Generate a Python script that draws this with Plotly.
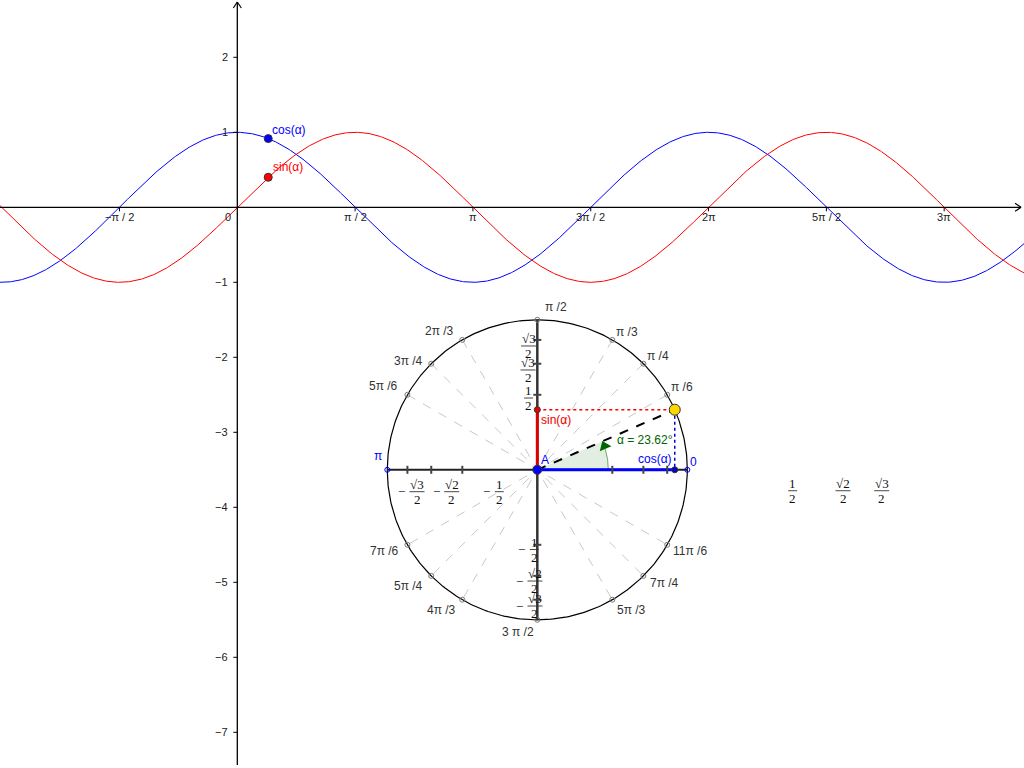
import numpy as np
import plotly.graph_objects as go

# angle shown in the drawing
alpha_deg = 23.62

# unit circle of the construction (radius 2, centre A)
circle_center = (4.0, -3.5)
circle_radius = 2.0

# main axes
x_tick_vals = [-np.pi / 2, 0, np.pi / 2, np.pi, 3 * np.pi / 2, 2 * np.pi, 5 * np.pi / 2, 3 * np.pi]
x_tick_text = ["−π / 2", "0", "π / 2", "π", "3π / 2", "2π", "5π / 2", "3π"]
y_tick_vals = [2, 1, -1, -2, -3, -4, -5, -6, -7]
y_tick_text = ["2", "1", "−1", "−2", "−3", "−4", "−5", "−6", "−7"]

# special angles on the circle
angle_deg = [30, 45, 60, 90, 120, 135, 150, 210, 225, 240, 270, 300, 315, 330]
angle_text = ["π /6", "π /4", "π /3", "π /2", "2π /3", "3π /4", "5π /6",
              "7π /6", "5π /4", "4π /3", "3 π /2", "5π /3", "7π /4", "11π /6"]
angle_shift = [(15, 8), (15, 8), (15, 8), (19, 13), (-23, 9), (-23, 3), (-24, 9),
               (-23, -6), (-23, -10), (-21, -10), (-19, -12), (19, -10), (21, -7), (23, -6)]
diam_deg = [30, 45, 60, 120, 135, 150]

# tick marks on the circle axes, as fractions of the radius
circle_ticks = [0.5, np.sqrt(2) / 2, np.sqrt(3) / 2]

# fraction labels (numerator over 2), position of the fraction bar
frac_num = ["√3", "√2", "1", "1", "√2", "√3", "√3", "√3", "1", "1", "√2", "√3"]
frac_neg = [True, True, True, True, True, True, False, False, False, False, False, False]
frac_x = [2.396, 2.859, 3.493, 3.960, 3.969, 3.969, 3.883, 3.876, 3.883, 7.405, 8.076, 8.592]
frac_y = [-3.792, -3.792, -3.792, -4.563, -4.983, -5.316, -1.849, -2.169, -2.543, -3.779, -3.779, -3.779]

x_range = [-3.164, 10.489]
y_range = [-7.476, 2.764]

SANS = "Liberation Sans"
SERIF = "Liberation Serif"

a = np.radians(alpha_deg)
cx, cy = circle_center
R = circle_radius
px_, py_ = cx + R * np.cos(a), cy + R * np.sin(a)   # moving point on the circle

fig = go.Figure()


def line(xs, ys, color, width=1, dash=None, **kw):
    fig.add_trace(go.Scatter(x=xs, y=ys, mode="lines",
                             line=dict(color=color, width=width, dash=dash),
                             hoverinfo="skip", **kw))


def dots(xs, ys, color, size, outline="#333", width=1, symbol="circle", angle=0):
    fig.add_trace(go.Scatter(x=xs, y=ys, mode="markers", hoverinfo="skip",
                             marker=dict(color=color, size=size, symbol=symbol, angle=angle,
                                         line=dict(color=outline, width=width))))


def label(x, y, text, color="#333", size=12, dx=0, dy=0, family=SANS, xanchor="center"):
    fig.add_annotation(x=x, y=y, text=text, showarrow=False, xshift=dx, yshift=dy,
                       xanchor=xanchor, yanchor="middle",
                       font=dict(color=color, size=size, family=family))


def pxline(xa, ya, x0, y0, x1, y1, color="black", width=1):
    # short segment sized in pixels around a data anchor
    fig.add_shape(type="line", xref="x", yref="y", xsizemode="pixel", ysizemode="pixel",
                  xanchor=xa, yanchor=ya, x0=x0, y0=y0, x1=x1, y1=y1,
                  line=dict(color=color, width=width))


# ---- graph of sin and cos
xs = np.linspace(x_range[0], x_range[1], 900)
line(xs, np.cos(xs), "#0000ff", 1)
line(xs, np.sin(xs), "#ff0000", 1)

# ---- main axes
line([x_range[0], 10.45], [0, 0], "black", 1.3)
line([0, 0], [-7.436, 2.737], "black", 1.3)
pxline(10.45, 0, -6, 4, 0, 0, width=1.2)
pxline(10.45, 0, -6, -4, 0, 0, width=1.2)
pxline(0, 2.737, -4, -6, 0, 0, width=1.2)
pxline(0, 2.737, 4, -6, 0, 0, width=1.2)
for v, t in zip(x_tick_vals, x_tick_text):
    if v != 0:
        pxline(v, 0, 0, -4, 0, 0)
    label(v, 0, t, color="#222", size=11, dx=-9 if v == 0 else 0, dy=-10)
for v, t in zip(y_tick_vals, y_tick_text):
    pxline(0, v, -4, 0, 0, 0)
    label(0, v, t, color="#222", size=11, dx=-7, xanchor="right")

# ---- unit circle construction
for d in diam_deg:
    r = np.radians(d)
    line([cx + R * np.cos(r), cx - R * np.cos(r)], [cy + R * np.sin(r), cy - R * np.sin(r)],
         "#c8c8c8", 1, dash="dash")

t = np.linspace(0, 2 * np.pi, 400)
line(cx + R * np.cos(t), cy + R * np.sin(t), "black", 1.2)

# angle sector
ta = np.linspace(0, a, 40)
ra = 0.947
fig.add_trace(go.Scatter(x=np.r_[cx, cx + ra * np.cos(ta), cx], y=np.r_[cy, cy + ra * np.sin(ta), cy],
                         mode="lines", fill="toself", fillcolor="rgba(0,100,0,0.11)",
                         line=dict(width=0), hoverinfo="skip"))
line(cx + ra * np.cos(ta), cy + ra * np.sin(ta), "rgba(0,100,0,0.55)", 1)

# circle axes
line([cx - R, cx + R], [cy, cy], "#222", 2)
line([cx, cx], [cy - R, cy + R], "#333", 2.5)
for v in circle_ticks:
    for s in (-1, 1):
        pxline(cx + s * R * v, cy, 0, -4, 0, 4, color="#444", width=2)
        pxline(cx, cy + s * R * v, -4, 0, 4, 0, color="#444", width=2)

# sin / cos segments
line([cx, cx], [cy, py_], "#dd0000", 3)
line([cx, px_], [cy, cy], "#0000ff", 3)
line([cx, px_], [py_, py_], "#ff0000", 1.5, dash="dot")
line([px_, px_], [py_, cy], "#0000cc", 1.5, dash="dot")
line([cx, px_], [cy, py_], "black", 2, dash="dash")

# arrow of the angle
tip = np.array([cx + ra * np.cos(a), cy + ra * np.sin(a)])
back = tip + 0.07 * np.array([np.sin(a), -np.cos(a)])
dots([back[0]], [back[1]], "#006400", 11, outline="#006400", width=0,
     symbol="triangle-up", angle=-alpha_deg)

# special points
sp = np.radians(angle_deg)
dots(cx + R * np.cos(sp), cy + R * np.sin(sp), "rgba(0,0,0,0)", 5, outline="#777", width=1)
dots([cx + R, cx - R], [cy, cy], "rgba(0,0,0,0)", 5, outline="#0000ff", width=1)
dots([cx], [py_], "#ee0000", 6)
dots([px_], [cy], "#0000cc", 6)
dots([cx], [cy], "#0000ff", 9)
dots([px_], [py_], "#ffd700", 11)

# points on the curves
dots([a], [np.cos(a)], "#0000ff", 8)
dots([a], [np.sin(a)], "#ff0000", 8)
label(a, np.cos(a), "cos(α)", color="#0000ff", size=12, dx=21, dy=9)
label(a, np.sin(a), "sin(α)", color="#ff0000", size=12, dx=20, dy=10)

# labels of the construction
for d, txt, (dx, dy) in zip(angle_deg, angle_text, angle_shift):
    r = np.radians(d)
    label(cx + R * np.cos(r), cy + R * np.sin(r), txt, color="#333", size=12, dx=dx, dy=dy)
label(cx - R, cy, "π", color="#0000ff", size=12, dx=-9, dy=14)
label(cx + R, cy, "0", color="#0000ff", size=12, dx=6, dy=8)
label(cx, cy, "A", color="#0000ff", size=12, dx=8, dy=10)
label(px_, cy, "cos(α)", color="#0000ff", size=12, dx=-20, dy=11)
label(cx, py_, "sin(α)", color="#ee0000", size=12, dx=19, dy=-10)
label(cx, cy, "α = 23.62°", color="#006400", size=12, dx=108, dy=30)

# fractions
for num, neg, x, y in zip(frac_num, frac_neg, frac_x, frac_y):
    w = 15 if num.startswith("√") else 9
    label(x, y, num, color="#111", size=13, dy=7.5, family=SERIF)
    label(x, y, "2", color="#111", size=13, dy=-7.5, family=SERIF)
    pxline(x, y, -w / 2, 0, w / 2, 0, color="#333", width=0.9)
    if neg:
        label(x, y, "−", color="#111", size=13, dx=-(w / 2 + 8), family=SERIF)

fig.update_layout(
    width=1024, height=768,
    margin=dict(l=0, r=0, t=0, b=0, pad=0),
    paper_bgcolor="white", plot_bgcolor="white",
    showlegend=False,
    xaxis=dict(range=x_range, visible=False, fixedrange=True),
    yaxis=dict(range=y_range, visible=False, fixedrange=True),
)

fig.write_html("out.html", config={"displayModeBar": False},
               post_script="document.body.style.margin='0';")
